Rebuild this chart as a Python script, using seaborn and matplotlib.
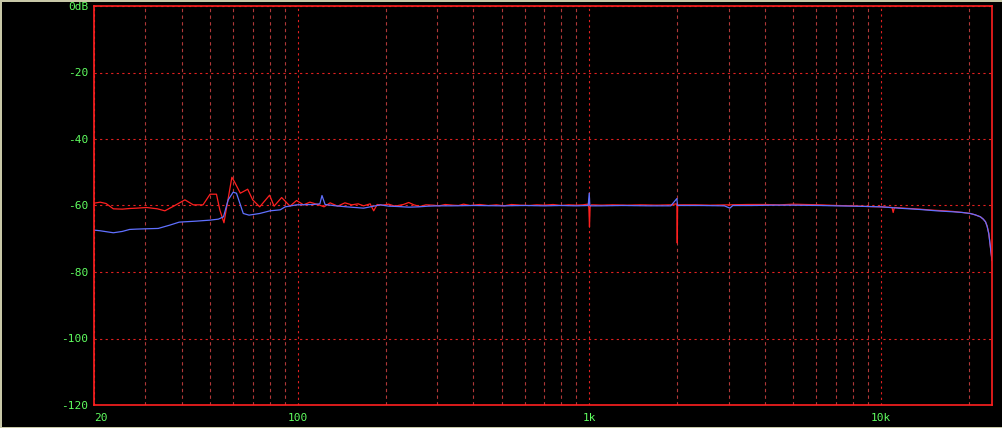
import numpy as np
import pandas as pd
import seaborn as sns
import matplotlib
matplotlib.use("Agg")
import matplotlib.pyplot as plt
from matplotlib.ticker import FixedLocator, NullFormatter

# values (Hz, dB)
freq_red = [20, 21, 22, 23.3, 25, 26.5, 28, 30.3, 33, 35, 37.5, 41, 43.8, 47.3,
            50, 52.6, 54, 55.8, 59.4, 61, 63.5, 67.3, 70, 74, 80, 82.9, 88, 94,
            99, 104.6, 110, 118, 123, 129, 137, 145, 153, 161, 168, 177, 182, 187,
            195, 205, 215, 230, 240, 250, 262, 275, 290, 305, 320, 340, 355, 370,
            390, 420, 450, 480, 510, 540, 580, 620, 660, 700, 750, 800, 850, 900,
            950, 985, 995, 1000, 1005, 1015, 1100, 1200, 1350, 1500, 1700, 1900,
            1985, 1995, 2000, 2005, 2020, 2300, 2600, 3000, 3500, 4000, 4500, 5000,
            5500, 6200, 7000, 8000, 9000, 10000, 10900, 11000, 11100, 12000, 13600,
            15000, 16500, 17700, 19000, 20200, 21000, 21900, 22400, 22800, 23100,
            23400, 23700, 24000]
db_red = [-59.3, -59.0, -59.4, -61.0, -61.1, -60.9, -60.8, -60.6, -61.0, -61.6,
          -60.2, -58.3, -59.8, -59.8, -56.6, -56.6, -61.3, -65.2, -51.5, -53.3,
          -56.3, -55.1, -58.3, -60.4, -56.9, -60.2, -57.6, -60.2, -58.5, -59.8,
          -59.0, -59.8, -60.4, -59.2, -60.2, -59.2, -59.8, -59.5, -60.1, -59.5,
          -61.6, -59.7, -59.9, -59.6, -60.2, -59.7, -59.1, -59.8, -60.3, -59.8,
          -59.9, -60.1, -59.7, -59.9, -60.0, -59.6, -60.0, -59.7, -60.0, -59.8,
          -60.1, -59.7, -59.9, -60.0, -59.8, -59.9, -59.7, -60.0, -59.8, -59.9,
          -59.8, -59.6, -60.5, -66.4, -60.3, -59.8, -59.9, -59.8, -59.9, -59.8,
          -59.9, -59.8, -59.5, -60.3, -71.3, -60.2, -59.8, -59.8, -59.9, -59.8,
          -59.7, -59.7, -59.8, -59.6, -59.7, -59.8, -60.0, -60.1, -60.3, -60.4,
          -60.6, -62.1, -60.6, -60.8, -61.1, -61.4, -61.6, -61.8, -62.1, -62.4,
          -62.8, -63.4, -64.1, -64.9, -66.2, -68.4, -72.4, -76.4]

freq_blue = [20, 21, 23.3, 25, 26.5, 28, 30.3, 33.2, 36.4, 39.2, 44.9, 50, 53.4,
             55.6, 57.7, 60, 61.6, 65, 68, 74, 80.3, 87, 90.5, 99, 113, 119, 121,
             124, 135, 147, 168, 192, 205, 220, 240, 260, 280, 300, 340, 400, 500,
             600, 700, 800, 900, 990, 998, 1003, 1100, 1300, 1600, 1900, 1995, 2002,
             2400, 2900, 3030, 3100, 3600, 4300, 5000, 6200, 7000, 8000, 9000,
             10000, 11500, 13600, 15500, 17700, 19000, 20200, 21000, 21900, 22400,
             22800, 23100, 23400, 23700, 24000]
db_blue = [-67.4, -67.6, -68.2, -67.8, -67.2, -67.1, -67.0, -66.9, -65.9, -65.0,
           -64.7, -64.4, -64.1, -63.4, -58.3, -56.0, -56.3, -62.4, -62.9, -62.4,
           -61.6, -61.3, -60.4, -59.8, -59.7, -59.5, -57.0, -59.7, -60.1, -60.4,
           -60.8, -59.8, -60.2, -60.3, -60.5, -60.4, -60.2, -60.1, -60.1, -60.0,
           -60.1, -60.0, -60.1, -60.0, -60.1, -60.0, -56.3, -60.1, -60.1, -60.0,
           -60.1, -60.1, -57.9, -60.0, -60.0, -60.1, -60.8, -60.0, -60.0, -59.9,
           -59.9, -60.0, -60.1, -60.2, -60.3, -60.4, -60.8, -61.2, -61.6, -61.9,
           -62.1, -62.4, -62.8, -63.4, -64.1, -64.9, -66.3, -68.5, -72.5, -76.6]

y_ticks = [0, -20, -40, -60, -80, -100, -120]
y_labels = ["0dB", "-20", "-40", "-60", "-80", "-100", "-120"]
x_ticks = [20, 100, 1000, 10000]
x_labels = ["20", "100", "1k", "10k"]
x_minor = [30, 40, 50, 60, 70, 80, 90, 200, 300, 400, 500, 600, 700, 800, 900,
           2000, 3000, 4000, 5000, 6000, 7000, 8000, 9000, 20000]

sns.set_style("dark", {"axes.facecolor": "black", "figure.facecolor": "black"})
plt.rcParams["font.family"] = ["DejaVu Sans Mono", "DejaVu Sans"]

fig = plt.figure(figsize=(10.03, 4.28), dpi=100)
fig.patch.set_facecolor("black")
fig.patch.set_edgecolor("#c8c8a8")
fig.patch.set_linewidth(2)
ax = fig.add_axes([94 / 1003, 1 - 405 / 428, (992 - 94) / 1003, (405 - 6) / 428])

red = pd.DataFrame({"f": freq_red, "db": db_red})
blue = pd.DataFrame({"f": freq_blue, "db": db_blue})
sns.lineplot(data=red, x="f", y="db", color="#ff2020", lw=0.9, estimator=None, ax=ax)
sns.lineplot(data=blue, x="f", y="db", color="#6070ff", lw=0.9, estimator=None, ax=ax)

ax.set_xscale("log")
ax.set_xlim(20, 24000)
ax.set_ylim(-120, 0)
ax.set_xlabel("")
ax.set_ylabel("")

ax.xaxis.set_major_locator(FixedLocator(x_ticks))
ax.xaxis.set_minor_locator(FixedLocator(x_minor))
ax.xaxis.set_minor_formatter(NullFormatter())
ax.set_xticks(x_ticks, x_labels)
ax.set_yticks(y_ticks, y_labels)
ax.tick_params(axis="both", which="both", length=0, colors="#60ff60", labelsize=8)
ax.tick_params(axis="x", pad=6)
ax.tick_params(axis="y", pad=4)
ax.get_xticklabels()[0].set_horizontalalignment("left")

ax.grid(True, which="major", axis="x", color="#e02020", ls=(0, (2, 3)), lw=0.8)
ax.grid(True, which="minor", axis="x", color="#b03838", ls=(0, (3, 3)), lw=0.8)
ax.grid(True, which="major", axis="y", color="#e02020", ls=(0, (2, 3)), lw=0.8)

for s in ax.spines.values():
    s.set_visible(True)
    s.set_color("#ff2020")
    s.set_linewidth(1.2)

fig.savefig("out.png", dpi=100, facecolor=fig.get_facecolor(), edgecolor=fig.get_edgecolor())
